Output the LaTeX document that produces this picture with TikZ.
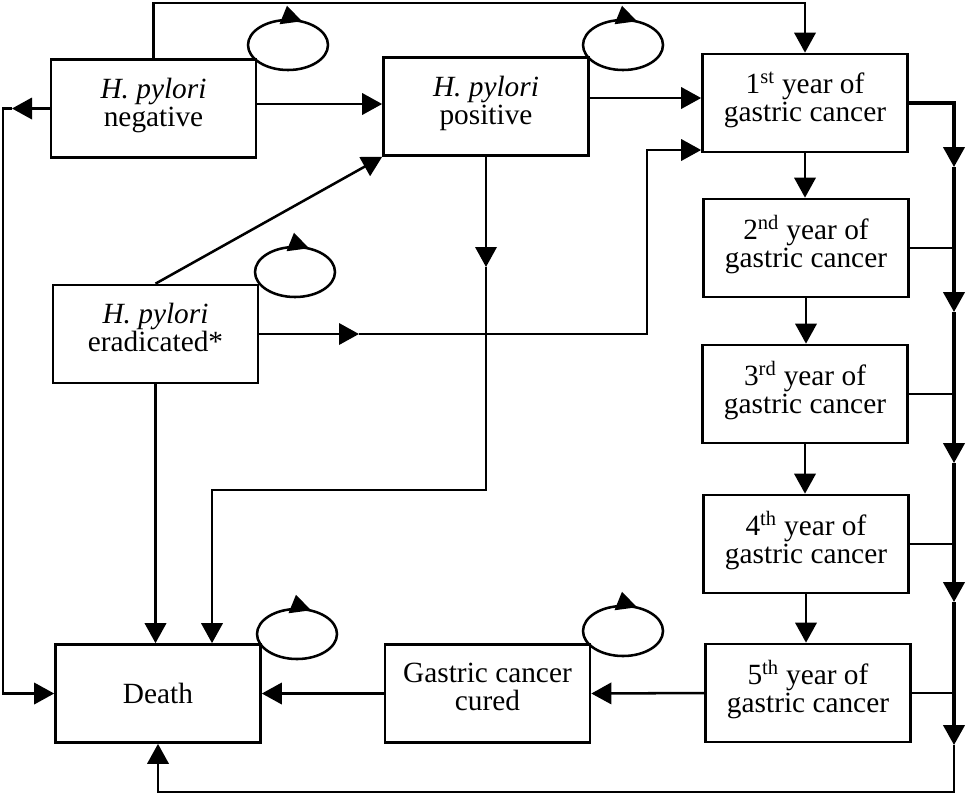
\documentclass[tikz,border=0pt]{standalone}
\usepackage{fontspec}
\setmainfont{Liberation Serif}
\usetikzlibrary{arrows.meta,shapes.geometric}
\newcommand\looptip[1]{\fill[shift={(#1.north)}] (-1,-13) -- (-8.5,5.5) -- (14,2.5) -- cycle;}
\newcommand\lowstrut{\rule[-10pt]{0pt}{10pt}}
\begin{document}
\begin{tikzpicture}[x=0.75pt,y=-0.75pt,
  box/.style={draw,line width=2pt,minimum width=153.75pt,minimum height=73.5pt,inner sep=0pt,align=center,font=\fontsize{22}{21}\selectfont},
  ln/.style={line width=1.9pt},
  arr/.style={ln,-{Triangle[length=15pt,width=16pt]}},
  rarr/.style={line width=2.4pt,-{Triangle[length=15pt,width=16pt]}},
  loope/.style={draw,ellipse,line width=1.9pt,minimum width=60pt,minimum height=37.5pt,inner sep=0pt},
]
\useasboundingbox (0,0) rectangle (966,794);
% boxes
\node[box] (neg) at (153.5,108.5) {\textit{H. pylori}\\negative\lowstrut};
\node[box] (pos) at (486,106.5) {\textit{H. pylori}\\positive\lowstrut};
\node[box] (erad) at (155.5,334) {\textit{H. pylori}\\eradicated*\lowstrut};
\node[box] (y1) at (805,103) {1\textsuperscript{st} year of\\gastric cancer\lowstrut};
\node[box] (y2) at (806,248) {2\textsuperscript{nd} year of\\gastric cancer\lowstrut};
\node[box] (y3) at (805,394) {3\textsuperscript{rd} year of\\gastric cancer\lowstrut};
\node[box] (y4) at (806,544) {4\textsuperscript{th} year of\\gastric cancer\lowstrut};
\node[box] (y5) at (808,693) {5\textsuperscript{th} year of\\gastric cancer\lowstrut};
\node[box] (cured) at (487.5,693.5) {Gastric cancer\\cured\lowstrut};
\node[box] (death) at (158,693.5) {Death};
% loops
\node[loope] (lneg) at (288,45) {};
\node[loope] (lpos) at (623,45) {};
\node[loope] (lerad) at (295,272) {};
\node[loope] (ldeath) at (297,634) {};
\node[loope] (lcured) at (623,631) {};
\looptip{lneg}
\looptip{lpos}
\looptip{lerad}
\looptip{ldeath}
\looptip{lcured}
% helper coordinates
\coordinate (ctop) at (0,3);
\coordinate (lx) at (3,0);
\coordinate (ltip) at (12,108.5);
\coordinate (h104) at (0,104);
\coordinate (h98) at (0,98);
\coordinate (emid) at (359,334);
\coordinate (ec) at (647,150);
\coordinate (pmid) at (486,267);
\coordinate (pc) at (212,490);
\coordinate (rx) at (954,0);
\coordinate (a1) at (954,167);
\coordinate (a2) at (954,312);
\coordinate (a3) at (954,463);
\coordinate (a4) at (954,602);
\coordinate (a5) at (954,745);
\coordinate (rb) at (954,792);
% connectors
\draw[arr] (neg.north) -- (neg.north |- ctop) -| (y1.north);
\draw[arr] (neg.east |- h104) -- (pos.west |- h104);
\draw[arr] (neg.west) -- (ltip);
\draw[arr] (ltip) -- (lx |- ltip) |- (death.west);
\draw[arr] (pos.east |- h98) -- (y1.west |- h98);
\draw[arr] (erad.north) -- (pos.south west);
\draw[arr] (erad.east) -- (emid);
\draw[arr] (emid) -| (ec) -- (y1.west |- ec);
\draw[arr] (pos.south) -- (pmid);
\draw[arr] (pmid) |- (pc) -- (pc |- death.north);
\draw[arr] (erad.south) -- (erad.south |- death.north);
\draw[arr] (y1.south) -- (y1.south |- y2.north);
\draw[arr] (y2.south) -- (y2.south |- y3.north);
\draw[arr] (y3.south) -- (y3.south |- y4.north);
\draw[arr] (y4.south) -- (y4.south |- y5.north);
\draw[arr] (y5.west) -- (cured.east);
\draw[arr] (cured.west) -- (death.east);
\draw[ln] (y2.east) -- (y2.east -| rx);
\draw[ln] (y3.east) -- (y3.east -| rx);
\draw[ln] (y4.east) -- (y4.east -| rx);
\draw[ln] (y5.east) -- (y5.east -| rx);
\draw[rarr] (y1.east) -| (a1);
\draw[rarr] (a1) -- (a2);
\draw[rarr] (a2) -- (a3);
\draw[rarr] (a3) -- (a4);
\draw[rarr] (a4) -- (a5);
\draw[arr] (a5) -- (rb) -| (death.south);
\end{tikzpicture}
\end{document}
